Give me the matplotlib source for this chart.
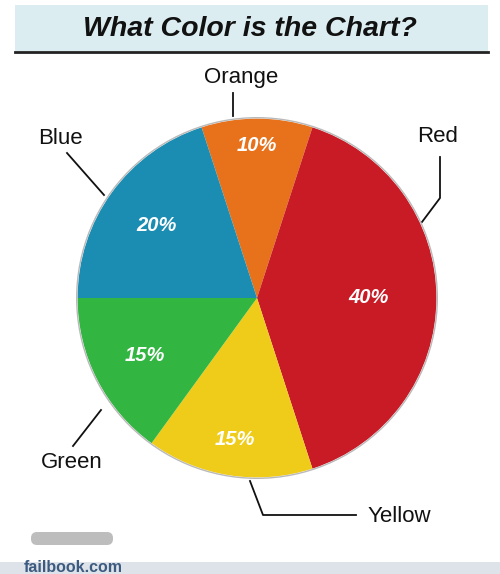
import matplotlib
matplotlib.use("Agg")
import matplotlib.pyplot as plt
import numpy as np
from matplotlib.patches import FancyBboxPatch, Rectangle

# data
categories = ["Orange", "Red", "Yellow", "Green", "Blue"]
shares = [10, 40, 15, 15, 20]
colors = ["#e8721c", "#c81b25", "#f0cc1a", "#33b542", "#1b8db2"]
pct_dist = [0.85, 0.62, 0.80, 0.70, 0.69]

plt.rcParams['font.family'] = ['Liberation Sans', 'DejaVu Sans']

W, H = 500, 574
fig = plt.figure(figsize=(W / 100, H / 100), dpi=100)
fig.patch.set_facecolor('white')

# overlay axis in pixel coordinates
ov = fig.add_axes([0, 0, 1, 1])
ov.set_xlim(0, W)
ov.set_ylim(H, 0)
ov.axis('off')

# title band
ov.add_patch(Rectangle((15, 5), 473, 46, facecolor='#dcedf1', edgecolor='none'))
ov.plot([15, 488], [51.5, 51.5], color='#222222', lw=2)
ov.text(250, 29, 'What Color is the Chart?', ha='center', va='center',
        fontsize=20.5, fontweight='bold', style='italic', color='#111111')

# pie
cx, cy, r = 257, 298, 183
pax = fig.add_axes([(cx - r) / W, (H - cy - r) / H, 2 * r / W, 2 * r / H])
wedges, _ = pax.pie(shares, colors=colors, startangle=108, counterclock=False,
                    radius=1, wedgeprops=dict(edgecolor='none'))
pax.add_patch(plt.Circle((0, 0), 1.005, fill=False, edgecolor='#b9b9b9', lw=1))
pax.set_xlim(-1.02, 1.02)
pax.set_ylim(-1.02, 1.02)
pax.set_aspect('equal')
pax.axis('off')

for w, s, d in zip(wedges, shares, pct_dist):
    ang = np.deg2rad((w.theta1 + w.theta2) / 2)
    pax.text(d * np.cos(ang), d * np.sin(ang), f'{s}%', ha='center', va='center',
             fontsize=14.5, fontweight='bold', style='italic', color='white')

# leader lines and category labels
lc = '#111111'
fs = 16
ov.plot([233, 233], [93, 116], color=lc, lw=1.3)
ov.text(241, 78, 'Orange', ha='center', va='center', fontsize=fs, color=lc)

ov.plot([440, 440, 422], [157, 198, 222], color=lc, lw=1.3)
ov.text(438, 137, 'Red', ha='center', va='center', fontsize=fs, color=lc)

ov.plot([67, 104], [153, 195], color=lc, lw=1.3)
ov.text(60, 138, 'Blue', ha='center', va='center', fontsize=fs, color=lc)

ov.plot([73, 101], [446, 410], color=lc, lw=1.3)
ov.text(72, 463, 'Green', ha='center', va='center', fontsize=fs, color=lc)

ov.plot([250, 263, 356], [481, 515, 515], color=lc, lw=1.3)
ov.text(399, 516, 'Yellow', ha='center', va='center', fontsize=fs, color=lc)

# gray pill and footer strip
ov.add_patch(FancyBboxPatch((31, 532), 82, 13, boxstyle='round,pad=0,rounding_size=6',
                            facecolor='#bdbdbd', edgecolor='none'))
ov.add_patch(Rectangle((0, 562), W, 12, facecolor='#dde3e9', edgecolor='none'))
ov.text(24, 568, 'failbook.com', ha='left', va='center', fontsize=11.5,
        fontweight='bold', color='#3d5a80')

fig.savefig('out.png', dpi=100, facecolor='white')
